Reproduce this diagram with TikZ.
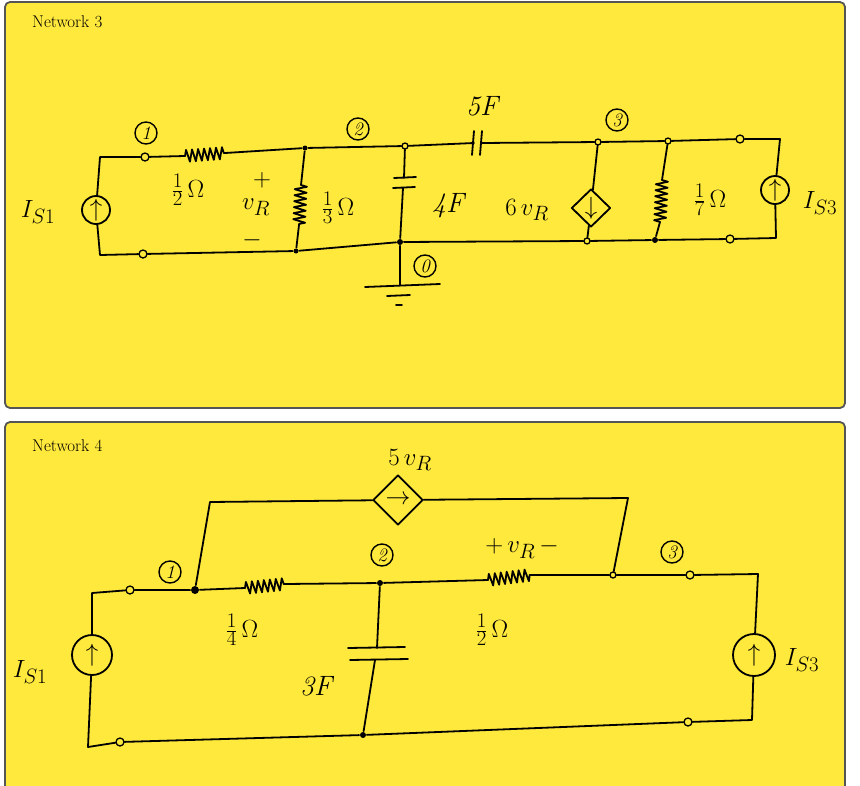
\documentclass[tikz,border=0pt]{standalone}
\usetikzlibrary{decorations.pathmorphing,shapes.geometric,arrows.meta}
\definecolor{bgy}{HTML}{FFE93D}
\definecolor{frm}{HTML}{555555}
\begin{document}
\begin{tikzpicture}[x=1pt,y=-1pt,line width=1.8pt,line join=round,line cap=round,
  panel/.style={draw=frm,fill=bgy,rounded corners=5pt,line width=1.8pt},
  ttl/.style={anchor=west,font=\fontsize{17}{19}\selectfont},
  lbl/.style={font=\fontsize{28}{30}\selectfont\itshape},
  num/.style={draw,circle,inner sep=0.5pt,minimum size=22pt,font=\fontsize{19}{20}\selectfont\itshape,line width=1.4pt},
  src/.style={draw,circle,minimum size=#1,inner sep=0pt,font=\fontsize{26}{26}\selectfont},
  dep/.style={draw,diamond,minimum width=#1,minimum height=#1,inner sep=0pt,aspect=1.2,font=\fontsize{26}{26}\selectfont},
  term/.style={draw,circle,minimum size=8pt,inner sep=0pt,fill=bgy,line width=1.3pt},
  jdot/.style={circle,fill=black,minimum size=6pt,inner sep=0pt},
  res/.style={decorate,decoration={zigzag,segment length=6pt,amplitude=6pt}}]
\useasboundingbox (0,0) rectangle (860,785);
\draw[panel] (5,2) rectangle (845,408);
\draw[panel] (5,422) rectangle (845,800);
\node[ttl] (t3) at (28,22) {Network 3};
\node[ttl] (t4) at (28,446) {Network 4};

% ---------------- Network 3 ----------------
\coordinate (tl) at (100,157); \coordinate (bl) at (100,255);
\node[src=28pt] (is1) at (96,210) {$\uparrow$};
\node[term] (n1t) at (145,157) {};
\node[term] (n1b) at (143,254) {};
\coordinate (r1a) at (185,156); \coordinate (r1b) at (225,153);
\node[jdot,minimum size=5pt] (j2t) at (305,148) {};
\node[jdot,minimum size=5pt] (j2b) at (296,251) {};
\node[term,minimum size=6pt] (j4t) at (405,146) {};
\node[jdot] (j4b) at (400,242) {};
\coordinate (c5a) at (474,143); \coordinate (c5b) at (482,143);
\node[term,minimum size=6pt] (j3t) at (598,142) {};
\node[term,minimum size=6pt] (j3b) at (587,241) {};
\node[dep=38pt] (ds3) at (591,208) {$\downarrow$};
\node[term,minimum size=6pt] (j7t) at (668,141) {};
\node[jdot] (j7b) at (655,240) {};
\node[term] (t3t) at (740,139) {};
\node[term] (t3b) at (730,239) {};
\node[src=28pt] (is3) at (775,190) {$\uparrow$};
\draw (is1) -- (tl) -- (n1t) -- (r1a);
\draw[res] (r1a) -- (r1b);
\draw (r1b) -- (j2t) -- (j4t) -- (c5a);
\draw (c5a) ++(0,-12) -- ++(-2,24);
\draw (c5b) ++(0,-12) -- ++(-2,24);
\draw (c5b) -- (j3t) -- (j7t) -- (t3t) -- (780,139) -- (is3) -- (776,238) -- (t3b) -- (j7b) -- (j3b) -- (j4b) -- (j2b) -- (n1b) -- (bl) -- (is1);
\draw (j2t) -- (301,185); \draw[res] (301,185) -- (299,225); \draw (299,225) -- (j2b);
\draw (j4t) -- (404,178); \draw (394,178) -- (416,177); \draw (393,188) -- (415,187); \draw (403,188) -- (j4b);
\draw (j3t) -- (ds3) -- (j3b);
\draw (j7t) -- (662,180); \draw[res] (662,180) -- (660,222); \draw (660,222) -- (j7b);
\draw (j4b) -- (400,285); \draw (365,287) -- (440,284); \draw (387,296) -- (410,295); \draw (396,305) -- (402,305);
\node[lbl] (lis1) at (38,212) {$I_{S1}$};
\node[lbl] (lis3) at (820,203) {$I_{S3}$};
\node[num] (c1) at (146,133) {1};
\node[num] (c2) at (358,129) {2};
\node[num] (c3) at (617,120) {3};
\node[num] (c0) at (425,266) {0};
\node[lbl] (l5f) at (482,106) {5F};
\node[lbl] (lr1) at (188,190) {$\frac{1}{2}\,\Omega$};
\node[lbl] (lp) at (262,180) {$+$};
\node[lbl] (lvr) at (256,207) {$v_R$};
\node[lbl] (lm) at (252,240) {$-$};
\node[lbl] (lr2) at (338,208) {$\frac{1}{3}\,\Omega$};
\node[lbl] (l4f) at (448,206) {4F};
\node[lbl] (l6) at (527,210) {$6\,v_R$};
\node[lbl] (lr7) at (710,200) {$\frac{1}{7}\,\Omega$};

% ---------------- Network 4 ----------------
\coordinate (bt) at (92,593); \coordinate (bb) at (88,747);
\node[src=40pt] (is41) at (92,655) {$\uparrow$};
\node[term] (a1t) at (130,590) {};
\node[term] (a1b) at (120,742) {};
\node[jdot,minimum size=8pt] (a1) at (195,590) {};
\coordinate (ra) at (245,588); \coordinate (rb) at (285,584);
\node[jdot] (a2) at (380,583) {};
\coordinate (rc) at (488,580); \coordinate (rd) at (530,575);
\node[term,minimum size=6pt] (a3) at (613,575) {};
\node[term] (a3t) at (690,575) {};
\node[src=42pt] (is43) at (754,655) {$\uparrow$};
\node[term] (a3b) at (688,722) {};
\node[jdot] (a0) at (363,735) {};
\node[dep=50pt] (ds4) at (398,500) {$\rightarrow$};
\draw (is41) -- (bt) -- (a1t) -- (a1) -- (ra);
\draw[res] (ra) -- (rb);
\draw (rb) -- (a2) -- (rc);
\draw[res] (rc) -- (rd);
\draw (rd) -- (a3) -- (a3t) -- (758,574) -- (is43) -- (752,720) -- (a3b) -- (a0) -- (a1b) -- (bb) -- (is41);
\draw (a1) -- (210,502) -- (ds4) -- (628,498) -- (a3);
\draw (a2) -- (377,648); \draw (348,648) -- (405,647); \draw (350,660) -- (408,659); \draw (375,660) -- (a0);
\node[lbl] (m5) at (410,460) {$5\,v_R$};
\node[num] (d1) at (170,572) {1};
\node[num] (d2) at (382,555) {2};
\node[num] (d3) at (672,552) {3};
\node[lbl] (mvr) at (522,548) {$+\,v_R\,-$};
\node[lbl] (mr1) at (242,630) {$\frac{1}{4}\,\Omega$};
\node[lbl] (mr2) at (492,630) {$\frac{1}{2}\,\Omega$};
\node[lbl] (m3f) at (316,686) {3F};
\node[lbl] (mis1) at (30,672) {$I_{S1}$};
\node[lbl] (mis3) at (802,660) {$I_{S3}$};
\end{tikzpicture}
\end{document}
